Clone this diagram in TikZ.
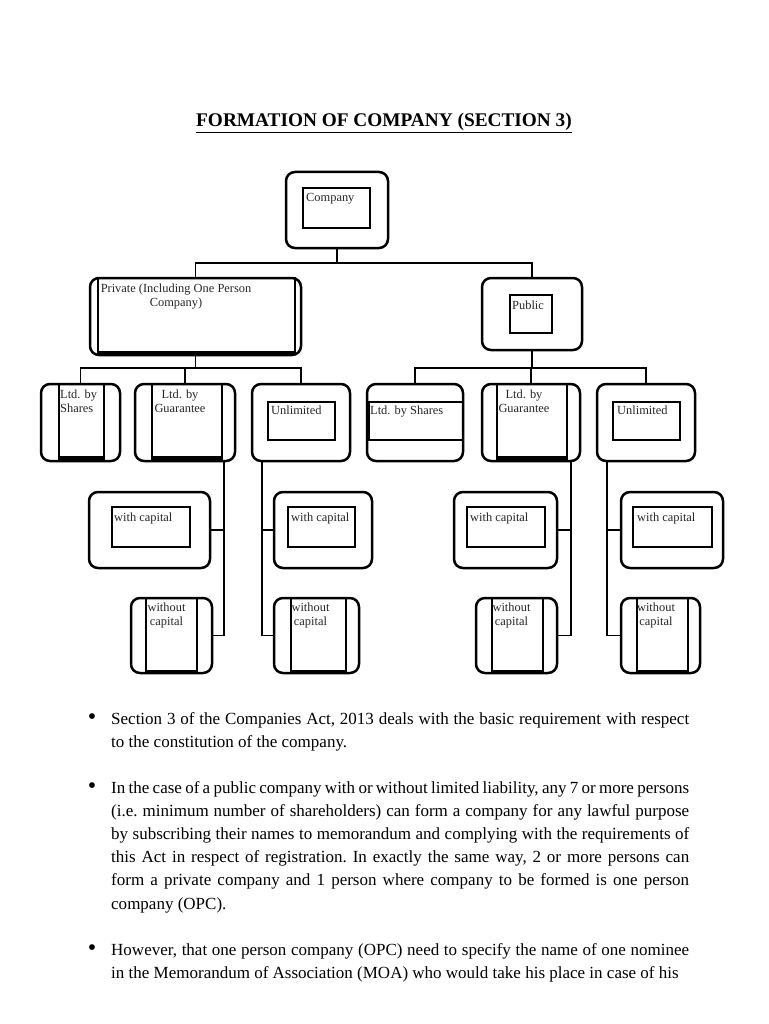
\documentclass[tikz,border=0pt]{standalone}
\usepackage{fontspec}
\setmainfont{Liberation Serif}
\usetikzlibrary{calc}

\tikzset{
  outerbox/.style 2 args={draw, line width=2.5pt, rounded corners=9pt, inner sep=0pt, minimum width=#1pt, minimum height=#2pt},
  innerbox/.style 2 args={draw, line width=2.1pt, inner sep=0pt, minimum width=#1pt, minimum height=#2pt},
  foot/.style={line width=4pt},
  link/.style={draw, line width=1.9pt},
  lbl/.style={inner sep=0pt, font=\fontsize{12.4}{14}\selectfont, text=black!85},
  para/.style={inner sep=0pt, anchor=base west, text width=578pt, align=justify, font=\fontsize{17}{23.1}\selectfont},
  bullet/.style={inner sep=0pt, anchor=center, font=\fontsize{24}{24}\selectfont}
}
\newcommand{\tightwords}{\frenchspacing\spaceskip=.25em plus .2em minus .11em\relax}

\begin{document}
\begin{tikzpicture}[x=1pt,y=-1pt]
\useasboundingbox (0,0) rectangle (768,1024);

% title
\node[inner sep=0pt, anchor=base, font=\fontsize{19.3}{22}\selectfont\bfseries] (title) at (384,127) {\underline{FORMATION OF COMPANY (SECTION 3)}};

% top level
\node[outerbox={102}{76}] (company) at (337,210) {};
\node[innerbox={67}{40}] (companyin) at (336.5,208) {};
\node[lbl, anchor=north west] (companytxt) at (306,193) {Company};

% second level
\node[outerbox={211}{77}] (private) at (195.5,316.5) {};
\node[innerbox={197}{74}] (privatein) at (196.5,315) {};
\draw[foot] (privatein.south west) -- (privatein.south east);
\node[lbl, anchor=north, align=center] (privatetxt) at (176,284) {Private (Including One Person\\Company)};

\node[outerbox={100}{72}] (public) at (532,314) {};
\node[innerbox={42}{38}] (publicin) at (531,314) {};
\node[lbl, anchor=north west] (publictxt) at (512,301) {Public};

% third level, private side
\node[outerbox={79}{77}] (lshares) at (80.5,422.5) {};
\node[innerbox={45}{73}] (lsharesin) at (81.5,420.5) {};
\draw[foot] (lsharesin.south west) -- (lsharesin.south east);
\node[lbl, anchor=north west, align=left] (lsharestxt) at (60,390) {Ltd. by\\Shares};

\node[outerbox={100}{77}] (lguar) at (185,422.5) {};
\node[innerbox={70}{73}] (lguarin) at (187,420.5) {};
\draw[foot] (lguarin.south west) -- (lguarin.south east);
\node[lbl, anchor=north, align=center] (lguartxt) at (180,390) {Ltd. by\\Guarantee};

\node[outerbox={98}{77}] (lunl) at (301,422.5) {};
\node[innerbox={67}{38}] (lunlin) at (301.5,421) {};
\node[lbl, anchor=north west] (lunltxt) at (271,406) {Unlimited};

% third level, public side
\node[outerbox={96}{77}] (rshares) at (415,422.5) {};
\node[innerbox={94}{38}] (rsharesin) at (416,421) {};
\node[lbl, anchor=north west] (rsharestxt) at (370,406) {Ltd. by Shares};

\node[outerbox={98}{77}] (rguar) at (531,422.5) {};
\node[innerbox={70}{73}] (rguarin) at (532,420.5) {};
\draw[foot] (rguarin.south west) -- (rguarin.south east);
\node[lbl, anchor=north, align=center] (rguartxt) at (524,390) {Ltd. by\\Guarantee};

\node[outerbox={98}{77}] (runl) at (646,422.5) {};
\node[innerbox={67}{38}] (runlin) at (646.5,421) {};
\node[lbl, anchor=north west] (runltxt) at (617,406) {Unlimited};

% fourth level
\node[outerbox={121}{76}] (lwc) at (149.5,530) {};
\node[innerbox={78}{40}] (lwcin) at (151,527) {};
\node[lbl, anchor=north west] (lwctxt) at (114,513) {with capital};
\node[outerbox={81}{75}] (lwoc) at (171.5,635.5) {};
\node[innerbox={51}{73}] (lwocin) at (171.5,634.5) {};
\draw[foot] (lwocin.south west) -- (lwocin.south east);
\node[lbl, anchor=north, align=center] (lwoctxt) at (166.5,603) {without\\capital};

\node[outerbox={98}{76}] (mwc) at (323,530) {};
\node[innerbox={67}{40}] (mwcin) at (321.5,527) {};
\node[lbl, anchor=north west] (mwctxt) at (291,513) {with capital};
\node[outerbox={85}{75}] (mwoc) at (316.5,635.5) {};
\node[innerbox={55}{73}] (mwocin) at (318.5,634.5) {};
\draw[foot] (mwocin.south west) -- (mwocin.south east);
\node[lbl, anchor=north, align=center] (mwoctxt) at (310.5,603) {without\\capital};

\node[outerbox={103}{76}] (rowc) at (505.5,530) {};
\node[innerbox={78}{40}] (rowcin) at (506,527) {};
\node[lbl, anchor=north west] (rowctxt) at (470,513) {with capital};
\node[outerbox={81}{75}] (rowoc) at (516.5,635.5) {};
\node[innerbox={51}{73}] (rowocin) at (517.5,634.5) {};
\draw[foot] (rowocin.south west) -- (rowocin.south east);
\node[lbl, anchor=north, align=center] (rowoctxt) at (511.5,603) {without\\capital};

\node[outerbox={102}{76}] (rtwc) at (672,530) {};
\node[innerbox={79}{40}] (rtwcin) at (672.5,527) {};
\node[lbl, anchor=north west] (rtwctxt) at (637,513) {with capital};
\node[outerbox={79}{75}] (rtwoc) at (660.5,635.5) {};
\node[innerbox={51}{73}] (rtwocin) at (662.5,634.5) {};
\draw[foot] (rtwocin.south west) -- (rtwocin.south east);
\node[lbl, anchor=north, align=center] (rtwoctxt) at (656,603) {without\\capital};

% connectors
\coordinate (topbus) at ($(company.south)+(0,14)$);
\draw[link] (company.south) -- (topbus);
\draw[link] (private.north) |- (topbus) -| (public.north);

\coordinate (privbus) at ($(private.south)+(0,12)$);
\draw[link] (private.south) -- (privbus);
\draw[link] (lshares.north) |- (privbus) -| (lunl.north);
\draw[link] (lguar.north) -- (lguar.north |- privbus);

\coordinate (pubbus) at ($(public.south)+(0,17)$);
\draw[link] (public.south) -- (pubbus);
\draw[link] (rshares.north) |- (pubbus) -| (runl.north);
\draw[link] (rguar.north) -- (rguar.north |- pubbus);

\coordinate (lgv) at ($(lguar.south)+(39,0)$);
\draw[link] (lgv) |- (lwoc.east);
\draw[link] (lwc.east) -- (lwc.east -| lgv);

\coordinate (luv) at ($(lunl.south)+(-39,0)$);
\draw[link] (luv) |- (mwoc.west);
\draw[link] (mwc.west) -- (mwc.west -| luv);

\coordinate (rgv) at ($(rguar.south)+(40,0)$);
\draw[link] (rgv) |- (rowoc.east);
\draw[link] (rowc.east) -- (rowc.east -| rgv);

\coordinate (ruv) at ($(runl.south)+(-39,0)$);
\draw[link] (ruv) |- (rtwoc.west);
\draw[link] (rtwc.west) -- (rtwc.west -| ruv);

% text below the chart
\node[bullet] (b1) at (92,719) {\textbullet};
\node[para] (p1) at (111,724.5) {\tightwords Section 3 of the Companies Act, 2013 deals with the basic requirement with respect\linebreak to the constitution of the company.};
\node[bullet] (b2) at (92,788) {\textbullet};
\node[para] (p2) at (111,793.5) {\tightwords In the case of a public company with or without limited liability, any 7 or more persons\linebreak (i.e. minimum number of shareholders) can form a company for any lawful purpose\linebreak by subscribing their names to memorandum and complying with the requirements of\linebreak this Act in respect of registration. In exactly the same way, 2 or more persons can\linebreak form a private company and 1 person where company to be formed is one person\linebreak company (OPC).};
\node[bullet] (b3) at (92,950) {\textbullet};
\node[para] (p3) at (111,955.5) {\tightwords\parfillskip=0pt However, that one person company (OPC) need to specify the name of one nominee\linebreak in the Memorandum of Association (MOA) who would take his place in case of his};
\end{tikzpicture}
\end{document}
